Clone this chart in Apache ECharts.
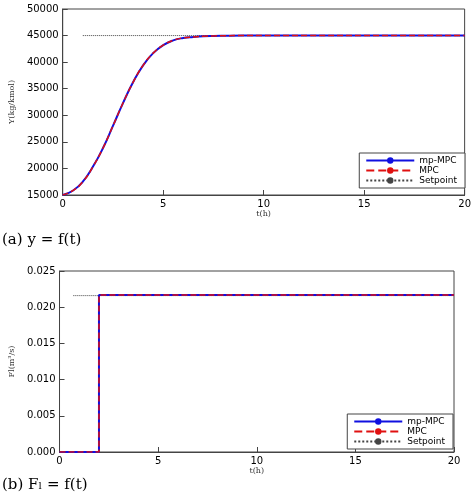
<!DOCTYPE html><html><head><meta charset="utf-8"><script src="https://cdn.jsdelivr.net/npm/echarts@6/dist/echarts.min.js"></script></head><body style="margin:0;background:#fff"><div id="c" style="width:474px;height:502px"></div><script>
const tY=[0,0.5,1,1.5,2,2.5,3,3.5,4,4.5,5,5.5,6,6.5,7,7.5,8,9,10,20];
const yVals=[15000,15800,17500,20300,23800,28000,32300,36200,39400,41700,43200,44100,44550,44750,44880,44940,44970,45000,45000,45000];
const ySet=[[1,45000],[20,45000]];
const tF=[0,2,2,20];
const fVals=[0,0,0.0217,0.0217];
const fSet=[[0.7,0.0216],[20,0.0216]];
const pair=(a,b)=>a.map((v,i)=>[v,b[i]]);
const ax={color:'#000',fontSize:10,fontFamily:'DejaVu Sans'};
const line={show:true,lineStyle:{color:'#444'}};
const ch=echarts.init(document.getElementById('c'));
const mk=(name,data,gi,color,type,w,z,sm)=>({name,type:'line',data,xAxisIndex:gi,yAxisIndex:gi,showSymbol:false,symbol:'none',smooth:sm,z,lineStyle:{color,type,width:w},itemStyle:{color}});
ch.setOption({animation:false,
grid:[{left:48,right:8,top:9,height:186,show:true,borderColor:'#444',borderWidth:1},{left:46,right:20,top:271,height:181,show:true,borderColor:'#444',borderWidth:1}],
xAxis:[0,1].map(i=>({gridIndex:i,type:'value',min:0,max:20,interval:5,name:'t(h)',nameLocation:'middle',nameGap:14,nameTextStyle:{fontFamily:'DejaVu Serif',fontSize:8,color:'#333'},axisLine:line,axisTick:{inside:true,lineStyle:{color:'#444'}},splitLine:{show:false},axisLabel:{...ax,margin:4}})),
yAxis:[{gridIndex:0,type:'value',min:15000,max:50000,interval:5000,name:'Y(kg/kmol)',nameLocation:'middle',nameGap:38,nameTextStyle:{fontFamily:'DejaVu Serif',fontSize:8,color:'#333'},axisLine:line,axisTick:{inside:true},splitLine:{show:false},axisLabel:{...ax,margin:4,formatter:v=>String(v)}},
{gridIndex:1,type:'value',min:0,max:0.025,interval:0.005,name:'Fl(m³/s)',nameLocation:'middle',nameGap:32,nameTextStyle:{fontFamily:'DejaVu Serif',fontSize:8,color:'#333'},axisLine:line,axisTick:{inside:true},splitLine:{show:false},axisLabel:{...ax,margin:4,formatter:v=>v.toFixed(3)}}],
legend:[0,1].map(i=>({right:i?21:9,top:i?414:153,orient:'vertical',itemGap:1,itemWidth:48,itemHeight:8,backgroundColor:'#fff',borderColor:'#444',borderWidth:1,padding:[3,8,3,6],borderRadius:0,textStyle:{fontSize:9,fontFamily:'DejaVu Sans',color:'#000',width:50},data:['mp-MPC','MPC','Setpoint']})),
series:[mk('mp-MPC',pair(tY,yVals),0,'#1010e0','solid',2,3,true),mk('MPC',pair(tY,yVals),0,'#e01010','dashed',1.5,4,true),mk('Setpoint',ySet,0,'#444','dotted',1,2,false),
mk('mp-MPC',pair(tF,fVals),1,'#1010e0','solid',2,3,false),mk('MPC',pair(tF,fVals),1,'#e01010','dashed',1.5,4,false),mk('Setpoint',fSet,1,'#444','dotted',1,2,false)],
graphic:[{type:'text',left:2,top:233,style:{text:'(a) y = f(t)',font:'15px DejaVu Serif',fill:'#000'}},{type:'text',left:2,top:478,style:{text:'(b) Fₗ = f(t)',font:'15px DejaVu Serif',fill:'#000'}}]
});
</script></body></html>
